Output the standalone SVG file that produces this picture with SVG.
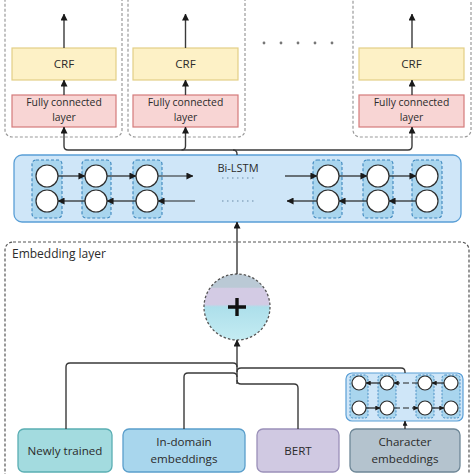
<svg xmlns="http://www.w3.org/2000/svg" width="474" height="474" viewBox="0 0 474 474">
<style>
.panel{fill:none;stroke:#9a9a9a;stroke-width:1.2;stroke-dasharray:3 2}
.crf{fill:#fdf1c6;stroke:#e3cf86;stroke-width:1.2}
.fc{fill:#f8d5d4;stroke:#d47b7b;stroke-width:1.2}
.t{font-family:"Open Sans","Liberation Sans",sans-serif;font-size:11px;font-weight:500;fill:#2b2b2b;text-anchor:middle}
.b{font-size:11.6px}
.f{font-size:10.4px}
.conn{fill:none;stroke:#3a3a3a;stroke-width:1.4}
.cell{fill:#a9d5ee;stroke:#3c86bd;stroke-width:1.1;stroke-dasharray:3 2}
.node{fill:#fff;stroke:#2c2c2c;stroke-width:1.2}
.rnn{stroke:#222;stroke-width:1.2;fill:none}
.dots{stroke:#6a8aa6;stroke-width:1.2;stroke-dasharray:1.5 3.5}
</style>
<defs>
<marker id="ah" viewBox="0 0 8 8" refX="7.5" refY="4" markerWidth="7" markerHeight="7" markerUnits="userSpaceOnUse" orient="auto">
<path d="M0,0 L8,4 L0,8 z" fill="#1a1a1a"/>
</marker>
<marker id="ahs" viewBox="0 0 8 8" refX="7.5" refY="4" markerWidth="5" markerHeight="5" markerUnits="userSpaceOnUse" orient="auto">
<path d="M0,0 L8,4 L0,8 z" fill="#1a1a1a"/>
</marker>
<linearGradient id="sum" x1="0" y1="0" x2="0" y2="1">
<stop offset="0" stop-color="#bac9d5"/>
<stop offset="0.2" stop-color="#bac9d5"/>
<stop offset="0.22" stop-color="#d3cbe4"/>
<stop offset="0.46" stop-color="#d3cbe4"/>
<stop offset="0.5" stop-color="#addfeb"/>
<stop offset="1" stop-color="#c4ecf2"/>
</linearGradient>
</defs>
<rect width="474" height="474" fill="#fff"/>

<!-- output panels -->
<g id="out1">
<rect class="panel" x="5" y="-10" width="117" height="147" rx="7"/>
<rect class="crf" x="12" y="48" width="104" height="32"/>
<text class="t b" x="64" y="68">CRF</text>
<rect class="fc" x="12" y="95" width="104" height="32"/>
<text class="t f" x="64" y="106">Fully connected</text>
<text class="t f" x="64" y="121">layer</text>
</g>
<g id="out2">
<rect class="panel" x="128" y="-10" width="117" height="147" rx="7"/>
<rect class="crf" x="133" y="48" width="105" height="32"/>
<text class="t b" x="185.5" y="68">CRF</text>
<rect class="fc" x="133" y="95" width="105" height="32"/>
<text class="t f" x="185.5" y="106">Fully connected</text>
<text class="t f" x="185.5" y="121">layer</text>
</g>
<g id="outdots">
<g fill="#777">
<circle cx="264" cy="43" r="1.4"/><circle cx="281" cy="43" r="1.4"/><circle cx="298" cy="43" r="1.4"/><circle cx="315" cy="43" r="1.4"/><circle cx="332" cy="43" r="1.4"/>
</g>
</g>
<g id="out3">
<rect class="panel" x="353" y="-10" width="118" height="147" rx="7"/>
<rect class="crf" x="359" y="48" width="105" height="32"/>
<text class="t b" x="411.5" y="68">CRF</text>
<rect class="fc" x="359" y="95" width="105" height="32"/>
<text class="t f" x="411.5" y="106">Fully connected</text>
<text class="t f" x="411.5" y="121">layer</text>
</g>

<!-- Bi-LSTM -->
<g id="bilstm">
<rect x="14" y="155" width="447" height="67" rx="8" fill="#cfe6f8" stroke="#5a9fd6" stroke-width="1.3"/>
<text class="t" x="238" y="172">Bi-LSTM</text>
<line class="dots" x1="222" y1="178" x2="256" y2="178"/>
<line class="dots" x1="222" y1="201" x2="256" y2="201"/>
<rect class="cell" x="32" y="160" width="30" height="58" rx="4"/>
<rect class="cell" x="82" y="160" width="29" height="58" rx="4"/>
<rect class="cell" x="133" y="160" width="29" height="58" rx="4"/>
<rect class="cell" x="313" y="160" width="29" height="58" rx="4"/>
<rect class="cell" x="363" y="160" width="30" height="58" rx="4"/>
<rect class="cell" x="412" y="160" width="30" height="58" rx="4"/>
<g class="rnn">
<line x1="58" y1="176" x2="85" y2="176" marker-end="url(#ah)"/>
<line x1="107" y1="176" x2="136" y2="176" marker-end="url(#ah)"/>
<line x1="158" y1="176" x2="193" y2="176" marker-end="url(#ah)"/>
<line x1="85" y1="201" x2="58" y2="201" marker-end="url(#ah)"/>
<line x1="136" y1="201" x2="107" y2="201" marker-end="url(#ah)"/>
<line x1="195" y1="201" x2="158" y2="201" marker-end="url(#ah)"/>
<line x1="285" y1="176" x2="317" y2="176" marker-end="url(#ah)"/>
<line x1="339" y1="176" x2="367" y2="176" marker-end="url(#ah)"/>
<line x1="389" y1="176" x2="416" y2="176" marker-end="url(#ah)"/>
<line x1="317" y1="201" x2="287" y2="201" marker-end="url(#ah)"/>
<line x1="367" y1="201" x2="339" y2="201" marker-end="url(#ah)"/>
<line x1="416" y1="201" x2="389" y2="201" marker-end="url(#ah)"/>
</g>
<circle class="node" cx="47" cy="176" r="11"/><circle class="node" cx="47" cy="201" r="11"/>
<circle class="node" cx="96" cy="176" r="11"/><circle class="node" cx="96" cy="201" r="11"/>
<circle class="node" cx="147" cy="176" r="11"/><circle class="node" cx="147" cy="201" r="11"/>
<circle class="node" cx="328" cy="176" r="11"/><circle class="node" cx="328" cy="201" r="11"/>
<circle class="node" cx="378" cy="176" r="11"/><circle class="node" cx="378" cy="201" r="11"/>
<circle class="node" cx="427" cy="176" r="11"/><circle class="node" cx="427" cy="201" r="11"/>
</g>

<!-- Embedding layer -->
<g id="embedding">
<rect x="5" y="242" width="464" height="240" rx="8" fill="none" stroke="#555" stroke-width="1.2" stroke-dasharray="3 2"/>
<text class="t" x="12" y="258" style="text-anchor:start;font-size:12px">Embedding layer</text>
</g>
<g id="sum-node">
<circle cx="237" cy="307" r="33" fill="url(#sum)" stroke="#555" stroke-width="1.3" stroke-dasharray="2.5 2"/>
<path d="M237,298 V316 M228,307 H246" stroke="#111" stroke-width="3.4"/>
</g>

<g id="newly">
<rect x="18" y="429" width="94" height="43" rx="6" fill="#a3dbdf" stroke="#5aaeb3" stroke-width="1.3"/>
<text class="t b" x="65" y="455">Newly trained</text>
</g>
<g id="indomain">
<rect x="123" y="429" width="122" height="43" rx="6" fill="#a8d6ed" stroke="#5a9ecb" stroke-width="1.3"/>
<text class="t b" x="184" y="446">In-domain</text>
<text class="t b" x="184" y="463">embeddings</text>
</g>
<g id="bert">
<rect x="257" y="429" width="82" height="43" rx="6" fill="#d0c9e2" stroke="#9a90b9" stroke-width="1.3"/>
<text class="t b" x="298" y="455">BERT</text>
</g>
<g id="charemb">
<rect x="350" y="429" width="110" height="43" rx="6" fill="#b4c3ce" stroke="#6e8797" stroke-width="1.3"/>
<text class="t b" x="405" y="446">Character</text>
<text class="t b" x="405" y="463">embeddings</text>
</g>
<g id="char-rnn">
<rect x="346" y="373" width="117" height="48" rx="6" fill="#cfe6f8" stroke="#5a9fd6" stroke-width="1.2"/>
<g fill="#a9d5ee" stroke="#3c86bd" stroke-width="0.9" stroke-dasharray="2 1.5">
<rect x="350" y="375" width="18" height="43" rx="3"/>
<rect x="378" y="375" width="18" height="43" rx="3"/>
<rect x="416" y="375" width="18" height="43" rx="3"/>
<rect x="442" y="375" width="18" height="43" rx="3"/>
</g>
<g class="rnn" stroke-width="1.1">
<line x1="380" y1="383" x2="366" y2="383" marker-end="url(#ahs)"/>
<line x1="418" y1="383" x2="394" y2="383" marker-end="url(#ahs)" stroke-dasharray="6 3"/>
<line x1="444" y1="383" x2="432" y2="383" marker-end="url(#ahs)"/>
<line x1="366" y1="408" x2="380" y2="408" marker-end="url(#ahs)"/>
<line x1="394" y1="408" x2="418" y2="408" marker-end="url(#ahs)" stroke-dasharray="6 3"/>
<line x1="432" y1="408" x2="444" y2="408" marker-end="url(#ahs)"/>
</g>
<g class="node">
<circle cx="359" cy="383" r="7"/><circle cx="387" cy="383" r="7"/><circle cx="425" cy="383" r="7"/><circle cx="451" cy="383" r="7"/>
<circle cx="359" cy="408" r="7"/><circle cx="387" cy="408" r="7"/><circle cx="425" cy="408" r="7"/><circle cx="451" cy="408" r="7"/>
</g>
</g>

<!-- connectors -->
<g id="connectors">
<line class="conn" x1="64" y1="48" x2="64" y2="14" marker-end="url(#ah)"/>
<line class="conn" x1="185.5" y1="48" x2="185.5" y2="14" marker-end="url(#ah)"/>
<line class="conn" x1="412" y1="48" x2="412" y2="14" marker-end="url(#ah)"/>
<line class="conn" x1="64" y1="95" x2="64" y2="80" marker-end="url(#ah)"/>
<line class="conn" x1="185.5" y1="95" x2="185.5" y2="80" marker-end="url(#ah)"/>
<line class="conn" x1="412" y1="95" x2="412" y2="80" marker-end="url(#ah)"/>
<path class="conn" d="M64,146 Q64,150 68,150 H408 Q412,150 412,146 V127" marker-end="url(#ah)"/>
<path class="conn" d="M64,146 V127" marker-end="url(#ah)"/>
<path class="conn" d="M181.5,150 Q185.5,150 185.5,146 V127" marker-end="url(#ah)"/>
<path class="conn" d="M233,150 Q237,150 237,154 V155"/>
<line class="conn" x1="237" y1="274" x2="237" y2="222" marker-end="url(#ah)"/>
<line class="conn" x1="237" y1="384" x2="237" y2="340" marker-end="url(#ah)"/>
<path class="conn" d="M66,429 V367 Q66,363 70,363 H233 Q237,363 237,367"/>
<path class="conn" d="M184,429 V377 Q184,373 188,373 H233 Q237,373 237,377"/>
<path class="conn" d="M237,372 Q237,368 241,368 H401 Q405,368 405,372 V373"/>
<path class="conn" d="M298,429 V388 Q298,384 294,384 H241 Q237,384 237,380"/>
<line class="conn" x1="405" y1="429" x2="405" y2="421" marker-end="url(#ahs)"/>
</g>
</svg>
